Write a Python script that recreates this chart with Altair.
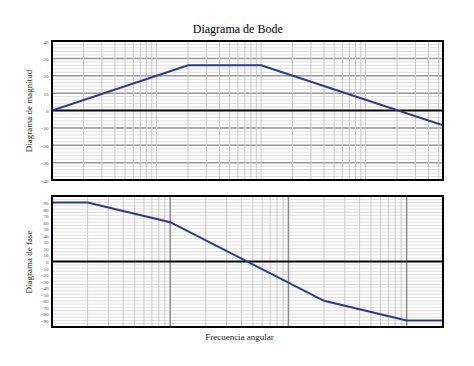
import altair as alt
import pandas as pd

# ---- data ----
mag_freq = [1, 20, 100, 5500]
mag_db = [0, 26, 26, -8.5]

phase_freq = [1, 2, 10, 200, 1000, 2030]
phase_deg = [90, 90, 60, -60, -90, -90]

mag_ticks = [-40, -30, -20, -10, 0, 10, 20, 30, 40]
phase_ticks = [-90, -80, -70, -60, -50, -40, -30, -20, -10, 0, 10, 20, 30, 40, 50, 60, 70, 80, 90]

top_xmax = 5500
bot_xmax = 2030

# grid positions (log grid 1..9 per decade)
log_grid = [k * 10 ** d for d in range(0, 4) for k in range(1, 10)]
top_vgrid = [v for v in log_grid if 1 < v < top_xmax]
bot_vgrid_minor = [v for v in log_grid if 1 < v < bot_xmax and v not in (10, 100, 1000)]
bot_vgrid_major = [10, 100, 1000]
top_hgrid_minor = list(range(-38, 39, 2))
top_hgrid_major = [-30, -20, -10, 10, 20, 30]
bot_hgrid = list(range(-95, 96, 5))

LINE = "#2b3a8f"
SERIF = "Liberation Serif"

W = 391


def panel(xmax, ydom, yticks, ytitle, h, vminor, vmajor, hminor, hmajor, line_df, xaxis):
    xs = alt.Scale(type="log", domain=[1, xmax], nice=False)
    ys = alt.Scale(domain=ydom, nice=False, zero=False)
    yax = alt.Axis(values=yticks, title=ytitle, ticks=False, domain=False, grid=False,
                   labelFont=SERIF, labelFontSize=5, labelColor="#444", labelPadding=4,
                   titleFont=SERIF, titleFontSize=9, titleFontWeight="normal", titleColor="#222",
                   titleX=-23.5, titleY=h / 2, titleBaseline="middle", titleAngle=270)
    layers = []
    layers.append(alt.Chart(pd.DataFrame({"y": hminor})).mark_rule(color="#d6d6d6", strokeWidth=0.8)
                  .encode(y=alt.Y("y:Q", scale=ys, axis=yax)))
    if hmajor:
        layers.append(alt.Chart(pd.DataFrame({"y": hmajor})).mark_rule(color="#9a9a9a", strokeWidth=1.5)
                      .encode(y=alt.Y("y:Q", scale=ys, axis=yax)))
    layers.append(alt.Chart(pd.DataFrame({"v": vminor})).mark_rule(color="#c8c8c8", strokeWidth=1)
                  .encode(x=alt.X("v:Q", scale=xs, axis=xaxis)))
    if vmajor:
        layers.append(alt.Chart(pd.DataFrame({"v": vmajor})).mark_rule(color="#8a8a8a", strokeWidth=1.5)
                      .encode(x=alt.X("v:Q", scale=xs, axis=xaxis)))
    layers.append(alt.Chart(pd.DataFrame({"y": [0]})).mark_rule(color="black", strokeWidth=2)
                  .encode(y=alt.Y("y:Q", scale=ys, axis=yax)))
    layers.append(alt.Chart(line_df).mark_line(color=LINE, strokeWidth=2, clip=True)
                  .encode(x=alt.X("x:Q", scale=xs, axis=xaxis),
                          y=alt.Y("y:Q", scale=ys, axis=yax)))
    # plot frame
    layers.append(alt.Chart(pd.DataFrame({"f": [0]})).mark_rect(fill=None, stroke="black", strokeWidth=2)
                  .encode(x=alt.value(0), x2=alt.value(W), y=alt.value(0), y2=alt.value(h)))
    return alt.layer(*layers).properties(width=W, height=h)


top = panel(top_xmax, [-40, 40], mag_ticks, "Diagrama de magnitud", 139,
            top_vgrid, [], top_hgrid_minor, top_hgrid_major,
            pd.DataFrame({"x": mag_freq, "y": mag_db}), None)

bot_xaxis = alt.Axis(labels=False, ticks=False, domain=False, grid=False, title="Frecuencia angular",
                     titleFont=SERIF, titleFontSize=9, titleFontWeight="normal", titleColor="#222",
                     titleX=187, titleY=12, titleBaseline="alphabetic")
bottom = panel(bot_xmax, [-100, 100], phase_ticks, "Diagrama de fase", 131,
               bot_vgrid_minor, bot_vgrid_major, bot_hgrid, [],
               pd.DataFrame({"x": phase_freq, "y": phase_deg}), bot_xaxis)

chart = alt.vconcat(top, bottom, spacing=10).properties(
    title=alt.TitleParams("Diagrama de Bode", font=SERIF, fontSize=12, fontWeight="normal",
                          color="black", anchor="middle", dx=3.5, offset=3),
    padding={"left": 24, "top": 22, "right": 10, "bottom": 5},
).configure_view(stroke=None).configure(background="white")

chart.save("out.html", embed_options={"renderer": "svg", "actions": False})
